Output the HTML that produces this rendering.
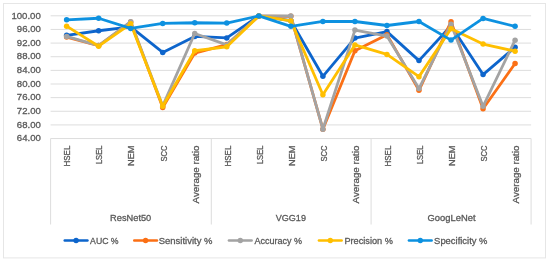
<!DOCTYPE html>
<html lang="en"><head><meta charset="utf-8"><title>Chart</title>
<style>html,body{margin:0;padding:0;background:#fff}body{width:550px;height:261px;overflow:hidden}svg{display:block}text{font-family:"Liberation Sans",sans-serif;fill:#595959;stroke:#595959;stroke-width:0.3px}</style></head><body>
<svg width="550" height="261" viewBox="0 0 550 261">
<defs><filter id="soft" x="-2%" y="-2%" width="104%" height="104%"><feGaussianBlur stdDeviation="0.4"/></filter></defs>
<rect x="0" y="0" width="550" height="261" fill="#fff"/>
<rect x="3.5" y="3.5" width="542" height="254.4" fill="#fff" stroke="#e6e6e6" stroke-width="1"/>
<line x1="50.60" y1="15.80" x2="531.10" y2="15.80" stroke="#dddddd" stroke-width="1"/>
<text x="40.8" y="18.55" font-size="9.70" text-anchor="end" textLength="29.4" lengthAdjust="spacingAndGlyphs">100.00</text>
<line x1="50.60" y1="29.44" x2="531.10" y2="29.44" stroke="#dddddd" stroke-width="1"/>
<text x="40.8" y="32.19" font-size="9.70" text-anchor="end" textLength="24.0" lengthAdjust="spacingAndGlyphs">96.00</text>
<line x1="50.60" y1="43.08" x2="531.10" y2="43.08" stroke="#dddddd" stroke-width="1"/>
<text x="40.8" y="45.83" font-size="9.70" text-anchor="end" textLength="24.0" lengthAdjust="spacingAndGlyphs">92.00</text>
<line x1="50.60" y1="56.72" x2="531.10" y2="56.72" stroke="#dddddd" stroke-width="1"/>
<text x="40.8" y="59.47" font-size="9.70" text-anchor="end" textLength="24.0" lengthAdjust="spacingAndGlyphs">88.00</text>
<line x1="50.60" y1="70.36" x2="531.10" y2="70.36" stroke="#dddddd" stroke-width="1"/>
<text x="40.8" y="73.11" font-size="9.70" text-anchor="end" textLength="24.0" lengthAdjust="spacingAndGlyphs">84.00</text>
<line x1="50.60" y1="84.00" x2="531.10" y2="84.00" stroke="#dddddd" stroke-width="1"/>
<text x="40.8" y="86.75" font-size="9.70" text-anchor="end" textLength="24.0" lengthAdjust="spacingAndGlyphs">80.00</text>
<line x1="50.60" y1="97.64" x2="531.10" y2="97.64" stroke="#dddddd" stroke-width="1"/>
<text x="40.8" y="100.39" font-size="9.70" text-anchor="end" textLength="24.0" lengthAdjust="spacingAndGlyphs">76.00</text>
<line x1="50.60" y1="111.28" x2="531.10" y2="111.28" stroke="#dddddd" stroke-width="1"/>
<text x="40.8" y="114.03" font-size="9.70" text-anchor="end" textLength="24.0" lengthAdjust="spacingAndGlyphs">72.00</text>
<line x1="50.60" y1="124.92" x2="531.10" y2="124.92" stroke="#dddddd" stroke-width="1"/>
<text x="40.8" y="127.67" font-size="9.70" text-anchor="end" textLength="24.0" lengthAdjust="spacingAndGlyphs">68.00</text>
<line x1="50.60" y1="138.56" x2="531.10" y2="138.56" stroke="#dddddd" stroke-width="1"/>
<text x="40.8" y="141.31" font-size="9.70" text-anchor="end" textLength="24.0" lengthAdjust="spacingAndGlyphs">64.00</text>
<line x1="50.60" y1="138.56" x2="50.60" y2="224.5" stroke="#dddddd" stroke-width="1"/>
<line x1="211.30" y1="138.56" x2="211.30" y2="224.5" stroke="#dddddd" stroke-width="1"/>
<line x1="371.10" y1="138.56" x2="371.10" y2="224.5" stroke="#dddddd" stroke-width="1"/>
<line x1="531.10" y1="138.56" x2="531.10" y2="224.5" stroke="#dddddd" stroke-width="1"/>
<text transform="translate(70.42,145.6) rotate(-90)" font-size="9.50" text-anchor="end" textLength="20.9" lengthAdjust="spacingAndGlyphs">HSEL</text>
<text transform="translate(102.45,145.6) rotate(-90)" font-size="9.50" text-anchor="end" textLength="18.5" lengthAdjust="spacingAndGlyphs">LSEL</text>
<text transform="translate(134.48,145.6) rotate(-90)" font-size="9.50" text-anchor="end" textLength="20.4" lengthAdjust="spacingAndGlyphs">NEM</text>
<text transform="translate(166.52,145.6) rotate(-90)" font-size="9.50" text-anchor="end" textLength="16.0" lengthAdjust="spacingAndGlyphs">SCC</text>
<text transform="translate(198.55,145.6) rotate(-90)" font-size="9.50" text-anchor="end" textLength="57.8" lengthAdjust="spacingAndGlyphs">Average ratio</text>
<text transform="translate(230.58,145.6) rotate(-90)" font-size="9.50" text-anchor="end" textLength="20.9" lengthAdjust="spacingAndGlyphs">HSEL</text>
<text transform="translate(262.62,145.6) rotate(-90)" font-size="9.50" text-anchor="end" textLength="18.5" lengthAdjust="spacingAndGlyphs">LSEL</text>
<text transform="translate(294.65,145.6) rotate(-90)" font-size="9.50" text-anchor="end" textLength="20.4" lengthAdjust="spacingAndGlyphs">NEM</text>
<text transform="translate(326.68,145.6) rotate(-90)" font-size="9.50" text-anchor="end" textLength="16.0" lengthAdjust="spacingAndGlyphs">SCC</text>
<text transform="translate(358.72,145.6) rotate(-90)" font-size="9.50" text-anchor="end" textLength="57.8" lengthAdjust="spacingAndGlyphs">Average ratio</text>
<text transform="translate(390.75,145.6) rotate(-90)" font-size="9.50" text-anchor="end" textLength="20.9" lengthAdjust="spacingAndGlyphs">HSEL</text>
<text transform="translate(422.78,145.6) rotate(-90)" font-size="9.50" text-anchor="end" textLength="18.5" lengthAdjust="spacingAndGlyphs">LSEL</text>
<text transform="translate(454.82,145.6) rotate(-90)" font-size="9.50" text-anchor="end" textLength="20.4" lengthAdjust="spacingAndGlyphs">NEM</text>
<text transform="translate(486.85,145.6) rotate(-90)" font-size="9.50" text-anchor="end" textLength="16.0" lengthAdjust="spacingAndGlyphs">SCC</text>
<text transform="translate(518.88,145.6) rotate(-90)" font-size="9.50" text-anchor="end" textLength="57.8" lengthAdjust="spacingAndGlyphs">Average ratio</text>
<text x="130.68" y="220.6" font-size="9.50" text-anchor="middle" textLength="41.2" lengthAdjust="spacingAndGlyphs">ResNet50</text>
<text x="290.85" y="220.6" font-size="9.50" text-anchor="middle" textLength="30.2" lengthAdjust="spacingAndGlyphs">VGG19</text>
<text x="451.52" y="220.6" font-size="9.50" text-anchor="middle" textLength="48.0" lengthAdjust="spacingAndGlyphs">GoogLeNet</text>
<g filter="url(#soft)">
<polyline points="66.62,35.35 98.65,30.74 130.68,26.82 162.72,52.41 194.75,36.38 226.78,37.91 258.82,15.90 290.85,20.68 322.88,76.30 354.92,38.08 386.95,31.60 418.98,60.60 451.02,25.80 483.05,74.60 515.08,47.30" fill="none" stroke="#0d65cc" stroke-width="2.80" stroke-linejoin="round" stroke-linecap="round"/>
<circle cx="66.62" cy="35.35" r="2.75" fill="#0d65cc"/>
<circle cx="98.65" cy="30.74" r="2.75" fill="#0d65cc"/>
<circle cx="130.68" cy="26.82" r="2.75" fill="#0d65cc"/>
<circle cx="162.72" cy="52.41" r="2.75" fill="#0d65cc"/>
<circle cx="194.75" cy="36.38" r="2.75" fill="#0d65cc"/>
<circle cx="226.78" cy="37.91" r="2.75" fill="#0d65cc"/>
<circle cx="258.82" cy="15.90" r="2.75" fill="#0d65cc"/>
<circle cx="290.85" cy="20.68" r="2.75" fill="#0d65cc"/>
<circle cx="322.88" cy="76.30" r="2.75" fill="#0d65cc"/>
<circle cx="354.92" cy="38.08" r="2.75" fill="#0d65cc"/>
<circle cx="386.95" cy="31.60" r="2.75" fill="#0d65cc"/>
<circle cx="418.98" cy="60.60" r="2.75" fill="#0d65cc"/>
<circle cx="451.02" cy="25.80" r="2.75" fill="#0d65cc"/>
<circle cx="483.05" cy="74.60" r="2.75" fill="#0d65cc"/>
<circle cx="515.08" cy="47.30" r="2.75" fill="#0d65cc"/>
<polyline points="66.62,37.06 98.65,45.59 130.68,22.04 162.72,107.62 194.75,53.10 226.78,44.57 258.82,16.20 290.85,16.35 322.88,129.21 354.92,50.71 386.95,34.67 418.98,90.29 451.02,21.69 483.05,108.72 515.08,63.50" fill="none" stroke="#fb6f14" stroke-width="2.80" stroke-linejoin="round" stroke-linecap="round"/>
<circle cx="66.62" cy="37.06" r="2.75" fill="#fb6f14"/>
<circle cx="98.65" cy="45.59" r="2.75" fill="#fb6f14"/>
<circle cx="130.68" cy="22.04" r="2.75" fill="#fb6f14"/>
<circle cx="162.72" cy="107.62" r="2.75" fill="#fb6f14"/>
<circle cx="194.75" cy="53.10" r="2.75" fill="#fb6f14"/>
<circle cx="226.78" cy="44.57" r="2.75" fill="#fb6f14"/>
<circle cx="258.82" cy="16.20" r="2.75" fill="#fb6f14"/>
<circle cx="290.85" cy="16.35" r="2.75" fill="#fb6f14"/>
<circle cx="322.88" cy="129.21" r="2.75" fill="#fb6f14"/>
<circle cx="354.92" cy="50.71" r="2.75" fill="#fb6f14"/>
<circle cx="386.95" cy="34.67" r="2.75" fill="#fb6f14"/>
<circle cx="418.98" cy="90.29" r="2.75" fill="#fb6f14"/>
<circle cx="451.02" cy="21.69" r="2.75" fill="#fb6f14"/>
<circle cx="483.05" cy="108.72" r="2.75" fill="#fb6f14"/>
<circle cx="515.08" cy="63.50" r="2.75" fill="#fb6f14"/>
<polyline points="66.62,36.38 98.65,45.59 130.68,21.70 162.72,105.91 194.75,33.49 226.78,44.91 258.82,15.90 290.85,16.00 322.88,129.21 354.92,30.06 386.95,36.03 418.98,88.59 451.02,24.15 483.05,106.33 515.08,40.23" fill="none" stroke="#a3a3a3" stroke-width="2.80" stroke-linejoin="round" stroke-linecap="round"/>
<circle cx="66.62" cy="36.38" r="2.75" fill="#a3a3a3"/>
<circle cx="98.65" cy="45.59" r="2.75" fill="#a3a3a3"/>
<circle cx="130.68" cy="21.70" r="2.75" fill="#a3a3a3"/>
<circle cx="162.72" cy="105.91" r="2.75" fill="#a3a3a3"/>
<circle cx="194.75" cy="33.49" r="2.75" fill="#a3a3a3"/>
<circle cx="226.78" cy="44.91" r="2.75" fill="#a3a3a3"/>
<circle cx="258.82" cy="15.90" r="2.75" fill="#a3a3a3"/>
<circle cx="290.85" cy="16.00" r="2.75" fill="#a3a3a3"/>
<circle cx="322.88" cy="129.21" r="2.75" fill="#a3a3a3"/>
<circle cx="354.92" cy="30.06" r="2.75" fill="#a3a3a3"/>
<circle cx="386.95" cy="36.03" r="2.75" fill="#a3a3a3"/>
<circle cx="418.98" cy="88.59" r="2.75" fill="#a3a3a3"/>
<circle cx="451.02" cy="24.15" r="2.75" fill="#a3a3a3"/>
<circle cx="483.05" cy="106.33" r="2.75" fill="#a3a3a3"/>
<circle cx="515.08" cy="40.23" r="2.75" fill="#a3a3a3"/>
<polyline points="66.62,26.17 98.65,46.19 130.68,23.77 162.72,106.25 194.75,50.75 226.78,46.78 258.82,15.90 290.85,20.89 322.88,94.73 354.92,44.91 386.95,54.46 418.98,76.64 451.02,28.68 483.05,44.05 515.08,51.19" fill="none" stroke="#ffbf00" stroke-width="2.80" stroke-linejoin="round" stroke-linecap="round"/>
<circle cx="66.62" cy="26.17" r="2.75" fill="#ffbf00"/>
<circle cx="98.65" cy="46.19" r="2.75" fill="#ffbf00"/>
<circle cx="130.68" cy="23.77" r="2.75" fill="#ffbf00"/>
<circle cx="162.72" cy="106.25" r="2.75" fill="#ffbf00"/>
<circle cx="194.75" cy="50.75" r="2.75" fill="#ffbf00"/>
<circle cx="226.78" cy="46.78" r="2.75" fill="#ffbf00"/>
<circle cx="258.82" cy="15.90" r="2.75" fill="#ffbf00"/>
<circle cx="290.85" cy="20.89" r="2.75" fill="#ffbf00"/>
<circle cx="322.88" cy="94.73" r="2.75" fill="#ffbf00"/>
<circle cx="354.92" cy="44.91" r="2.75" fill="#ffbf00"/>
<circle cx="386.95" cy="54.46" r="2.75" fill="#ffbf00"/>
<circle cx="418.98" cy="76.64" r="2.75" fill="#ffbf00"/>
<circle cx="451.02" cy="28.68" r="2.75" fill="#ffbf00"/>
<circle cx="483.05" cy="44.05" r="2.75" fill="#ffbf00"/>
<circle cx="515.08" cy="51.19" r="2.75" fill="#ffbf00"/>
<polyline points="66.62,19.85 98.65,18.25 130.68,28.40 162.72,23.45 194.75,22.77 226.78,23.07 258.82,15.90 290.85,26.31 322.88,21.49 354.92,21.49 386.95,25.50 418.98,21.49 451.02,40.09 483.05,18.42 515.08,26.37" fill="none" stroke="#0c91e0" stroke-width="2.80" stroke-linejoin="round" stroke-linecap="round"/>
<circle cx="66.62" cy="19.85" r="2.75" fill="#0c91e0"/>
<circle cx="98.65" cy="18.25" r="2.75" fill="#0c91e0"/>
<circle cx="130.68" cy="28.40" r="2.75" fill="#0c91e0"/>
<circle cx="162.72" cy="23.45" r="2.75" fill="#0c91e0"/>
<circle cx="194.75" cy="22.77" r="2.75" fill="#0c91e0"/>
<circle cx="226.78" cy="23.07" r="2.75" fill="#0c91e0"/>
<circle cx="258.82" cy="15.90" r="2.75" fill="#0c91e0"/>
<circle cx="290.85" cy="26.31" r="2.75" fill="#0c91e0"/>
<circle cx="322.88" cy="21.49" r="2.75" fill="#0c91e0"/>
<circle cx="354.92" cy="21.49" r="2.75" fill="#0c91e0"/>
<circle cx="386.95" cy="25.50" r="2.75" fill="#0c91e0"/>
<circle cx="418.98" cy="21.49" r="2.75" fill="#0c91e0"/>
<circle cx="451.02" cy="40.09" r="2.75" fill="#0c91e0"/>
<circle cx="483.05" cy="18.42" r="2.75" fill="#0c91e0"/>
<circle cx="515.08" cy="26.37" r="2.75" fill="#0c91e0"/>
</g>
<line x1="64.70" y1="240.5" x2="87.50" y2="240.5" stroke="#0d65cc" stroke-width="2.40" stroke-linecap="round"/>
<circle cx="76.10" cy="240.5" r="2.70" fill="#0d65cc"/>
<text x="90.10" y="243.7" font-size="9.50" textLength="28.5" lengthAdjust="spacingAndGlyphs">AUC %</text>
<line x1="134.20" y1="240.5" x2="157.00" y2="240.5" stroke="#fb6f14" stroke-width="2.40" stroke-linecap="round"/>
<circle cx="145.60" cy="240.5" r="2.70" fill="#fb6f14"/>
<text x="158.80" y="243.7" font-size="9.50" textLength="53.6" lengthAdjust="spacingAndGlyphs">Sensitivity %</text>
<line x1="228.90" y1="240.5" x2="251.70" y2="240.5" stroke="#a3a3a3" stroke-width="2.40" stroke-linecap="round"/>
<circle cx="240.30" cy="240.5" r="2.70" fill="#a3a3a3"/>
<text x="254.40" y="243.7" font-size="9.50" textLength="47.6" lengthAdjust="spacingAndGlyphs">Accuracy %</text>
<line x1="318.90" y1="240.5" x2="341.70" y2="240.5" stroke="#ffbf00" stroke-width="2.40" stroke-linecap="round"/>
<circle cx="330.30" cy="240.5" r="2.70" fill="#ffbf00"/>
<text x="344.40" y="243.7" font-size="9.50" textLength="48.6" lengthAdjust="spacingAndGlyphs">Precision %</text>
<line x1="408.90" y1="240.5" x2="431.70" y2="240.5" stroke="#0c91e0" stroke-width="2.40" stroke-linecap="round"/>
<circle cx="420.30" cy="240.5" r="2.70" fill="#0c91e0"/>
<text x="434.10" y="243.7" font-size="9.50" textLength="53.4" lengthAdjust="spacingAndGlyphs">Specificity %</text>
</svg></body></html>
